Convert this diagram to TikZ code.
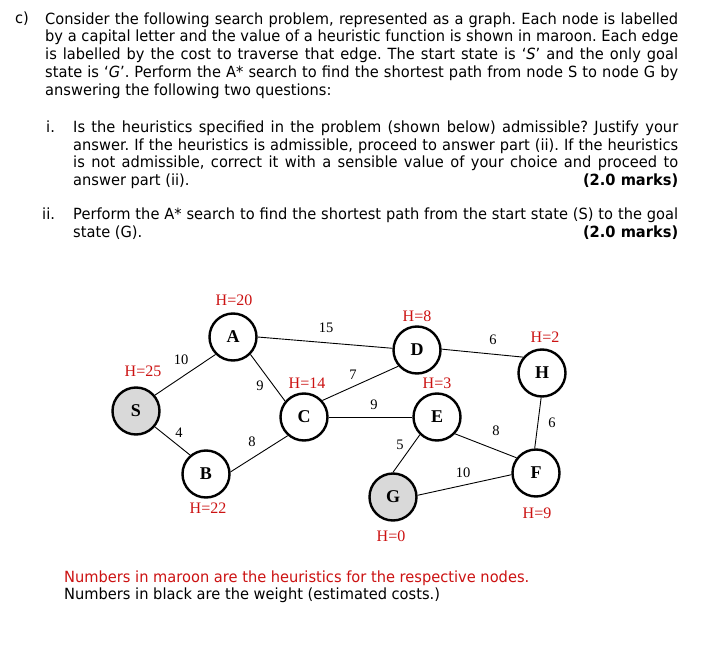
\documentclass[tikz,border=0pt]{standalone}
\usepackage{fontspec}
\setmainfont{DejaVu Sans}[FakeStretch=0.95]
\newfontfamily\graphfont{Liberation Serif}
\usetikzlibrary{positioning}
\definecolor{HeurRed}{RGB}{204,18,18}
\definecolor{StartGray}{RGB}{217,217,217}
\frenchspacing

\begin{document}
\begin{tikzpicture}[
    x=1pt, y=-1pt,
    para/.style={anchor=north west, inner sep=0pt, align=justify, font=\fontsize{15.4}{17.8}\selectfont},
    tag/.style={anchor=base west, inner sep=0pt, font=\fontsize{15.4}{17.8}\selectfont},
    state/.style={circle, draw, line width=2.4pt, minimum size=47pt, inner sep=0pt, fill=white, font=\graphfont\bfseries\fontsize{18}{18}\selectfont},
    endstate/.style={state, fill=StartGray},
    heur/.style={inner sep=0pt, text=HeurRed, font=\graphfont\fontsize{16}{16}\selectfont},
    cost/.style={inner sep=0pt, font=\graphfont\fontsize{14.5}{14.5}\selectfont},
    edge/.style={line width=0.9pt}
  ]
    \path[use as bounding box, fill=white] (0,0) rectangle (707,661);

    \node[tag] (qc) at (15,24) {c)};
    \node[para, text width=633pt] (intro) at (45,12.3) {Consider the following search problem, represented as a graph. Each node is labelled\linebreak
      by a capital letter and the value of a heuristic function is shown in maroon. Each edge\linebreak
      is labelled by the cost to traverse that edge. The start state is `\textit{S}' and the only goal\linebreak
      state is `\textit{G}'. Perform the A* search to find the shortest path from node S to node G by\linebreak
      answering the following two questions:};
    \node[tag] (qi) at (46,132) {i.};
    \node[para, text width=605pt] (parti) at (73,120.3) {Is the heuristics specified in the problem (shown below) admissible? Justify your\linebreak
      answer. If the heuristics is admissible, proceed to answer part (ii). If the heuristics\linebreak
      is not admissible, correct it with a sensible value of your choice and proceed to\linebreak
      answer part (ii).\hfill\textbf{(2.0 marks)}};
    \node[tag] (qii) at (42,219) {ii.};
    \node[para, text width=605pt] (partii) at (73,207.3) {Perform the A* search to find the shortest path from the start state (S) to the goal\linebreak
      state (G).\hfill\textbf{(2.0 marks)}};

    \node[state, endstate] (S) at (136,411) {S};
    \node[state] (A) at (233,337) {A};
    \node[state] (B) at (206,474) {B};
    \node[state] (C) at (304,417) {C};
    \node[state] (D) at (417,350) {D};
    \node[state] (E) at (437,417) {E};
    \node[state] (F) at (536,473) {F};
    \node[state, endstate] (G) at (393,497) {G};
    \node[state] (H) at (542,373) {H};

    \draw[edge] (S.40) -- (A.225);
    \draw[edge] (S.-40) -- (B.130);
    \draw[edge] (A.-45) -- (C.140);
    \draw[edge] (B.5) -- (C.229);
    \draw[edge] (A.0) -- (D.176);
    \draw[edge] (C.42) -- (D.221);
    \draw[edge] (C.0) -- (E.180);
    \draw[edge] (D.2) -- (H.140);
    \draw[edge] (H.268) -- (F.93);
    \draw[edge] (E.-43) -- (F.142);
    \draw[edge] (E.226) -- (G.90);
    \draw[edge] (G.4) -- (F.184);

    \node[heur] (hA) at (234,300) {H=20};
    \node[heur] (hS) at (143,371) {H=25};
    \node[heur] (hC) at (307,383) {H=14};
    \node[heur] (hB) at (208,508) {H=22};
    \node[heur] (hD) at (417,316) {H=8};
    \node[heur] (hH) at (545,337) {H=2};
    \node[heur] (hE) at (437,383) {H=3};
    \node[heur] (hF) at (537,513) {H=9};
    \node[heur] (hG) at (391,536) {H=0};

    \node[cost] (wSA) at (181,360) {10};
    \node[cost] (wSB) at (179,433) {4};
    \node[cost] (wAC) at (260,386) {9};
    \node[cost] (wBC) at (252,442) {8};
    \node[cost] (wAD) at (326,328) {15};
    \node[cost] (wCD) at (353,375) {7};
    \node[cost] (wCE) at (374,405) {9};
    \node[cost] (wDH) at (493,340) {6};
    \node[cost] (wHF) at (552,423) {6};
    \node[cost] (wEF) at (496,431) {8};
    \node[cost] (wEG) at (400,445) {5};
    \node[cost] (wGF) at (463,473) {10};

    \node[anchor=north west, inner sep=0pt, align=left, font=\fontsize{15.4}{17.3}\selectfont] (note) at (64,570.3) {\textcolor{HeurRed}{Numbers in maroon are the heuristics for the respective nodes.}\\
      Numbers in black are the weight (estimated costs.)};
  \end{tikzpicture}
\end{document}
